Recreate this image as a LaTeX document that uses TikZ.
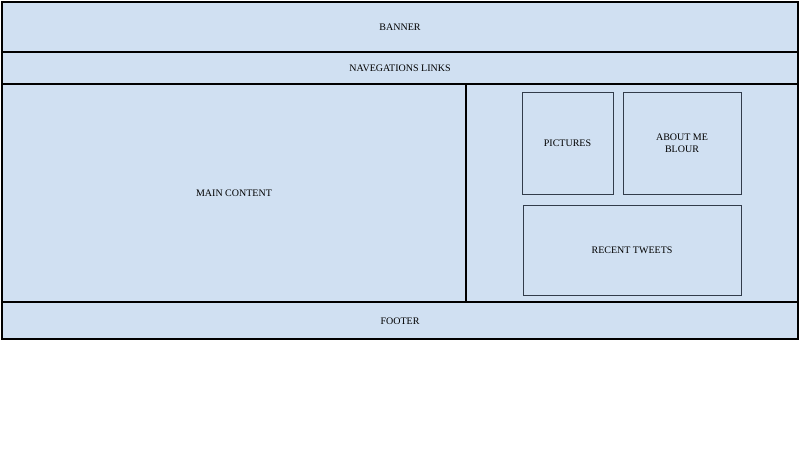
\documentclass[tikz,border=0pt]{standalone}
\usepackage{fontspec}
\setmainfont{Liberation Serif}
\definecolor{boxfill}{RGB}{208,224,242}
\definecolor{thinline}{RGB}{50,60,75}
\begin{document}
\begin{tikzpicture}[x=1pt,y=-1pt,
  outer/.style={draw=black,line width=2pt,fill=boxfill},
  inner/.style={draw=thinline,line width=0.8pt,fill=boxfill},
  lbl/.style={font=\fontsize{10pt}{11.5pt}\selectfont,align=center,text=black}]
\useasboundingbox (0,0) rectangle (800,450);
\fill[white] (0,0) rectangle (800,450);
\draw[outer] (2,2) rectangle (798,52);
\node[lbl] (banner) at (400,27) {BANNER};
\draw[outer] (2,52) rectangle (798,84);
\node[lbl] (nav) at (400,68) {NAVEGATIONS LINKS};
\draw[outer] (2,84) rectangle (466,302);
\node[lbl] (main) at (234,193) {MAIN CONTENT};
\draw[outer] (466,84) rectangle (798,302);
\draw[outer] (2,302) rectangle (798,339);
\node[lbl] (footer) at (400,321) {FOOTER};
\draw[inner] (522,92) rectangle (613,194);
\node[lbl] (pictures) at (567.5,143) {PICTURES};
\draw[inner] (623,92) rectangle (741,194);
\node[lbl] (about) at (682,143) {ABOUT ME\\BLOUR};
\draw[inner] (523,205) rectangle (741,295);
\node[lbl] (tweets) at (632,250) {RECENT TWEETS};
\end{tikzpicture}
\end{document}
